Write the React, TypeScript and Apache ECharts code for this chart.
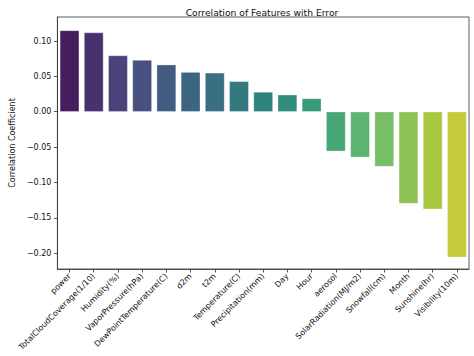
import React, { useEffect, useRef } from "react";
import * as echarts from "echarts";

const categories = [
  "power",
  "TotalCloudCoverage(1/10)",
  "Humidity(%)",
  "VaporPressure(hPa)",
  "DewPointTemperature(C)",
  "d2m",
  "t2m",
  "Temperature(C)",
  "Precipitation(mm)",
  "Day",
  "Hour",
  "aerosol",
  "SolarRadiation(MJ/m2)",
  "Snowfall(cm)",
  "Month",
  "Sunshine(hr)",
  "Visibility(10m)",
];

const correlations = [
  0.115, 0.112, 0.0795, 0.073, 0.0665, 0.056, 0.055, 0.043, 0.028, 0.024, 0.0187,
  -0.056, -0.0645, -0.0775, -0.13, -0.138, -0.206,
];

const yTicks = [-0.2, -0.15, -0.1, -0.05, 0, 0.05, 0.1];

const viridisStops = [
  "#440154", "#482475", "#414487", "#355f8d", "#2a788e", "#21918c",
  "#22a884", "#44bf70", "#7ad151", "#bddf26", "#fde725",
];

function hexToRgb(h: string) {
  const n = parseInt(h.slice(1), 16);
  return [(n >> 16) & 255, (n >> 8) & 255, n & 255];
}

function viridis(t: number) {
  const p = t * (viridisStops.length - 1);
  const i = Math.min(Math.floor(p), viridisStops.length - 2);
  const f = p - i;
  const a = hexToRgb(viridisStops[i]);
  const b = hexToRgb(viridisStops[i + 1]);
  return a.map((v, k) => (v + (b[k] - v) * f) / 255);
}

function desaturate(rgb: number[], prop: number) {
  const [r, g, b] = rgb;
  const max = Math.max(r, g, b), min = Math.min(r, g, b);
  const l = (max + min) / 2;
  let h = 0, s = 0;
  if (max !== min) {
    const d = max - min;
    s = l > 0.5 ? d / (2 - max - min) : d / (max + min);
    if (max === r) h = ((g - b) / d + (g < b ? 6 : 0)) / 6;
    else if (max === g) h = ((b - r) / d + 2) / 6;
    else h = ((r - g) / d + 4) / 6;
  }
  s *= prop;
  const hue2rgb = (p: number, q: number, t: number) => {
    if (t < 0) t += 1;
    if (t > 1) t -= 1;
    if (t < 1 / 6) return p + (q - p) * 6 * t;
    if (t < 1 / 2) return q;
    if (t < 2 / 3) return p + (q - p) * (2 / 3 - t) * 6;
    return p;
  };
  let out: number[];
  if (s === 0) out = [l, l, l];
  else {
    const q = l < 0.5 ? l * (1 + s) : l + s - l * s;
    const p = 2 * l - q;
    out = [hue2rgb(p, q, h + 1 / 3), hue2rgb(p, q, h), hue2rgb(p, q, h - 1 / 3)];
  }
  return "rgb(" + out.map((v) => Math.round(v * 255)).join(",") + ")";
}

const barColors = categories.map((_, i) =>
  desaturate(viridis((i + 1) / (categories.length + 1)), 0.75)
);

const FONT = "DejaVu Sans";

export default function App() {
  const ref = useRef<HTMLDivElement>(null);
  useEffect(() => {
    if (!ref.current) return;
    const chart = echarts.init(ref.current, undefined, { renderer: "svg" });
    chart.setOption({
      animation: false,
      backgroundColor: "#ffffff",
      title: {
        text: "Correlation of Features with Error",
        left: 257,
        textAlign: "center",
        top: 3,
        textStyle: { fontFamily: FONT, fontSize: 9.2, fontWeight: "normal", color: "#111" },
      },
      grid: {
        left: 45,
        top: 17,
        right: 5,
        bottom: 87,
        show: true,
        borderColor: "#333",
        borderWidth: 0.8,
        backgroundColor: "transparent",
      },
      xAxis: {
        type: "category",
        data: categories,
        boundaryGap: true,
        axisLine: { show: true, onZero: false, lineStyle: { color: "#333", width: 0.8 } },
        axisTick: { show: true, alignWithLabel: true, length: 3.5, lineStyle: { color: "#333", width: 0.8 } },
        axisLabel: {
          interval: 0,
          rotate: 45,
          margin: 6,
          fontFamily: FONT,
          fontSize: 8,
          color: "#111",
        },
        splitLine: { show: false },
      },
      yAxis: {
        type: "value",
        min: -0.2225,
        max: 0.134,
        name: "Correlation Coefficient",
        nameLocation: "middle",
        nameGap: 36,
        nameTextStyle: { fontFamily: FONT, fontSize: 8, color: "#111" },
        axisLine: { show: true, lineStyle: { color: "#333", width: 0.8 } },
        axisTick: { show: true, length: 3.5, customValues: yTicks, lineStyle: { color: "#333", width: 0.8 } },
        axisLabel: {
          customValues: yTicks,
          margin: 6,
          fontFamily: FONT,
          fontSize: 8,
          color: "#111",
          formatter: (v: number) => {
            const s = Math.abs(v).toFixed(2);
            return v < -1e-9 ? "\u2212" + s : s;
          },
        },
        splitLine: { show: false },
      },
      series: [
        {
          type: "bar",
          barWidth: "80%",
          data: correlations.map((v, i) => ({
            value: v,
            itemStyle: { color: barColors[i], borderColor: "rgba(255,255,255,0.6)", borderWidth: 0.5 },
          })),
        },
      ],
    });
    return () => chart.dispose();
  }, []);
  return <div ref={ref} style={{ width: 474, height: 356, position: "absolute", left: 0, top: 0 }} />;
}
